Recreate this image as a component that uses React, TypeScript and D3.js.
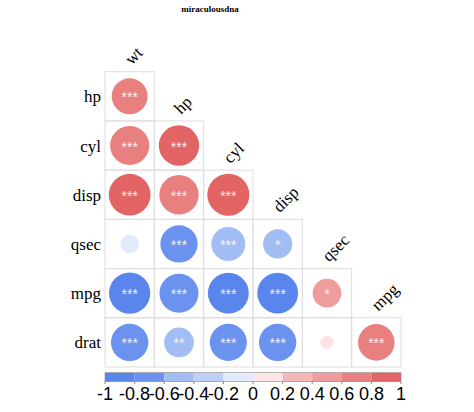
import React from "react";
import * as d3 from "d3";

const title = "miraculousdna";
const rowVars = ["hp", "cyl", "disp", "qsec", "mpg", "drat"];
const colVars = ["wt", "hp", "cyl", "disp", "qsec", "mpg"];
// lower-triangle correlations, row i has i+1 values
const corrValues = [
  [0.659],
  [0.782, 0.832],
  [0.888, 0.791, 0.902],
  [-0.175, -0.708, -0.591, -0.434],
  [-0.868, -0.776, -0.852, -0.848, 0.419],
  [-0.712, -0.449, -0.7, -0.71, 0.091, 0.681],
];
const stars = [
  ["***"],
  ["***", "***"],
  ["***", "***", "***"],
  ["", "***", "***", "*"],
  ["***", "***", "***", "***", "*"],
  ["***", "**", "***", "***", "", "***"],
];
const binColors = [
  "#5a85ec", "#6a92ee", "#a2bcf4", "#bfd0f6", "#e2eafb",
  "#fde3e3", "#f4b6b6", "#ee9c9c", "#e88080", "#e36464",
];
const legendTicks = [-1, -0.8, -0.6, -0.4, -0.2, 0, 0.2, 0.4, 0.6, 0.8, 1];

export default function App() {
  const W = 474, H = 412;
  const x = d3.scaleBand<string>().domain(colVars).range([105, 401]).padding(0);
  const y = d3.scaleBand<string>().domain(rowVars).range([71.7, 367]).padding(0);
  const color = d3.scaleQuantize<string>().domain([-1, 1]).range(binColors);
  const lx = d3.scaleLinear().domain([-1, 1]).range([105, 401]);
  const bw = x.bandwidth();
  const bh = y.bandwidth();
  const cell = Math.min(bw, bh);
  const serif = "'Liberation Serif', 'Times New Roman', serif";
  const sans = "'Liberation Sans', Arial, sans-serif";

  const cells: any[] = [];
  rowVars.forEach((r, i) => {
    corrValues[i].forEach((v, j) => {
      cells.push({ r, c: colVars[j], v, s: stars[i][j] });
    });
  });

  return (
    <svg width={W} height={H} style={{ position: "absolute", left: 0, top: 0, background: "#fff" }}>
      <text x={210} y={12} textAnchor="middle" fontFamily={serif} fontWeight="bold" fontSize={9}>{title}</text>
      {cells.map((d, k) => (
        <rect key={"g" + k} x={x(d.c)} y={y(d.r)} width={bw} height={bh} fill="none" stroke="#dddddd" strokeWidth={1} />
      ))}
      {cells.map((d, k) => {
        const cx = (x(d.c) as number) + bw / 2;
        const cy = (y(d.r) as number) + bh / 2;
        const rad = 0.45 * Math.sqrt(Math.abs(d.v)) * cell;
        return (
          <g key={"c" + k}>
            <circle cx={cx} cy={cy} r={rad} fill={color(d.v)} />
            {d.s && (
              <text x={cx} y={cy + 6} textAnchor="middle" fill="#fff" fillOpacity={0.9} fontFamily={sans} fontSize={14}>{d.s}</text>
            )}
          </g>
        );
      })}
      {rowVars.map((r) => (
        <text key={"rl" + r} x={101} y={(y(r) as number) + bh / 2 + 6} textAnchor="end" fontFamily={serif} fontSize={17}>{r}</text>
      ))}
      {colVars.map((c, j) => {
        const tx = (x(c) as number) + bw / 2 + 2;
        const ty = (y(rowVars[j]) as number) - 6;
        return (
          <text key={"cl" + c} transform={`translate(${tx},${ty}) rotate(-45)`} fontFamily={serif} fontSize={17}>{c}</text>
        );
      })}
      {binColors.map((col, i) => (
        <rect key={"lb" + i} x={lx(-1 + i * 0.2)} y={372.7} width={lx(-0.8) - lx(-1)} height={9} fill={col} />
      ))}
      <rect x={lx(-1)} y={372.7} width={lx(1) - lx(-1)} height={9} fill="none" stroke="#888" strokeWidth={0.6} />
      {legendTicks.map((t) => (
        <g key={"lt" + t}>
          <line x1={lx(t)} x2={lx(t)} y1={381.7} y2={384} stroke="#666" strokeWidth={0.8} />
          <text x={lx(t)} y={399.5} textAnchor="middle" fontFamily={sans} fontSize={18}>{String(t)}</text>
        </g>
      ))}
    </svg>
  );
}
